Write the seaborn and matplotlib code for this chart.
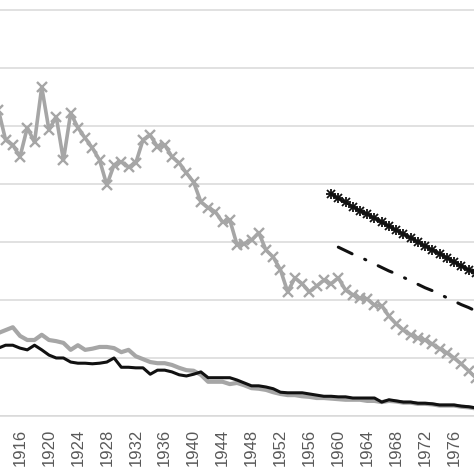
import numpy as np
import pandas as pd
import matplotlib
matplotlib.use("Agg")
import matplotlib.pyplot as plt
import seaborn as sns

# years shown on the category axis
years_all = list(range(1913, 1980))
tick_years = list(range(1916, 1980, 4))

# grey series with x markers
series_x = [52.8, 47.6, 46.7, 44.7, 49.7, 47.2, 56.7, 49.3, 51.6, 44.1,
            52.2, 49.7, 47.9, 46.2, 44.1, 39.8, 43.3, 43.8, 42.9, 43.6,
            47.6, 48.4, 46.4, 46.7, 44.7, 43.6, 41.9, 40.3, 36.9, 35.9,
            35.2, 33.4, 33.8, 29.5, 29.7, 30.3, 31.6, 28.6, 27.4, 25.2,
            21.4, 23.8, 22.8, 21.4, 22.4, 23.4, 22.8, 23.8, 21.7, 20.9,
            20.3, 20.2, 19.1, 19.0, 17.2, 15.9, 14.8, 14.0, 13.4, 13.1,
            12.4, 11.6, 10.9, 10.0, 9.0, 7.8, 6.6]

# thick grey line
series_grey = [14.3, 14.8, 15.3, 13.8, 13.1, 13.1, 14.0, 13.1, 12.9, 12.6,
               11.4, 12.2, 11.4, 11.6, 11.9, 11.9, 11.7, 11.0, 11.4, 10.3,
               9.8, 9.3, 9.1, 9.1, 8.8, 8.3, 7.9, 7.8, 7.1, 5.9,
               5.9, 5.9, 5.5, 5.7, 5.3, 4.8, 4.7, 4.5, 4.1, 3.8,
               3.6, 3.6, 3.4, 3.3, 3.1, 3.1, 3.0, 2.9, 2.8, 2.8,
               2.8, 2.6, 2.6, 2.4, 2.6, 2.5, 2.3, 2.3, 2.1, 2.1,
               2.0, 1.8, 1.8, 1.8, 1.6, 1.5, 1.3]

# black line
series_black = [11.7, 12.2, 12.2, 11.7, 11.4, 12.2, 11.4, 10.5, 10.0, 10.0,
                9.3, 9.1, 9.1, 9.0, 9.1, 9.3, 10.0, 8.4, 8.4, 8.3,
                8.3, 7.2, 7.9, 7.9, 7.6, 7.1, 6.9, 7.2, 7.6, 6.6,
                6.6, 6.6, 6.6, 6.2, 5.7, 5.2, 5.2, 5.0, 4.7, 4.1,
                4.0, 4.0, 4.0, 3.8, 3.6, 3.4, 3.4, 3.3, 3.3, 3.1,
                3.1, 3.1, 3.1, 2.4, 2.8, 2.6, 2.4, 2.4, 2.2, 2.2,
                2.1, 1.9, 1.9, 1.9, 1.7, 1.6, 1.4]

# projection lines
proj_years = list(range(1959, 1980))
proj_high = [38.3, 37.5, 36.8, 36.1, 35.4, 34.8, 34.1, 33.4, 32.7, 32.0,
             31.4, 30.7, 30.0, 29.3, 28.6, 28.0, 27.3, 26.6, 25.9, 25.2, 24.6]
dash_years = list(range(1960, 1980))
proj_low = [29.1, 28.5, 27.9, 27.4, 26.8, 26.2, 25.6, 25.0, 24.5, 23.9,
            23.3, 22.7, 22.1, 21.6, 21.0, 20.4, 19.8, 19.2, 18.7, 18.1]

sns.set_style("white")
plt.rcParams['font.family'] = ['Liberation Sans', 'DejaVu Sans']

fig = plt.figure(figsize=(4.74, 4.74), dpi=100)
ax = fig.add_axes([0, 58 / 474, 1, 416 / 474])

grey = "#a6a6a6"
sns.lineplot(x=years_all, y=series_grey, ax=ax, color=grey, linewidth=3.0)
sns.lineplot(x=years_all, y=series_black, ax=ax, color="#111111", linewidth=2.2)
sns.lineplot(x=years_all, y=series_x, ax=ax, color=grey, linewidth=2.6,
             marker="x", markersize=7.5, markeredgewidth=1.7, markeredgecolor=grey)
sns.lineplot(x=proj_years, y=proj_high, ax=ax, color="#111111", linewidth=1.5,
             marker="x", markersize=6, markeredgewidth=1.3, markeredgecolor="#111111")
sns.lineplot(x=proj_years, y=proj_high, ax=ax, color="#111111", linewidth=1.5,
             marker="+", markersize=7, markeredgewidth=1.3, markeredgecolor="#111111")
sns.lineplot(x=dash_years, y=proj_low, ax=ax, color="#111111", linewidth=2.2)
ax.lines[-1].set_linestyle((0, (5, 4.5, 0.4, 4.5)))
ax.lines[-1].set_dash_capstyle("round")

ax.set_xlim(1913.23, 1978.76)
ax.set_ylim(0, 71.7)
ax.set_yticks(range(0, 80, 10))
ax.set_yticklabels([])
ax.set_xticks(tick_years)
ax.set_xticklabels([str(y) for y in tick_years], rotation=90, fontsize=12, color="#595959")
ax.tick_params(axis="x", length=0, pad=9)
ax.tick_params(axis="y", length=0)
ax.grid(axis="y", color="#d9d9d9", linewidth=1.1)
ax.set_axisbelow(True)
for side in ["top", "left", "right"]:
    ax.spines[side].set_visible(False)
ax.spines["bottom"].set_color("#d9d9d9")
ax.spines["bottom"].set_linewidth(1.1)
ax.set_xlabel("")
ax.set_ylabel("")

fig.savefig("out.png", dpi=100)
